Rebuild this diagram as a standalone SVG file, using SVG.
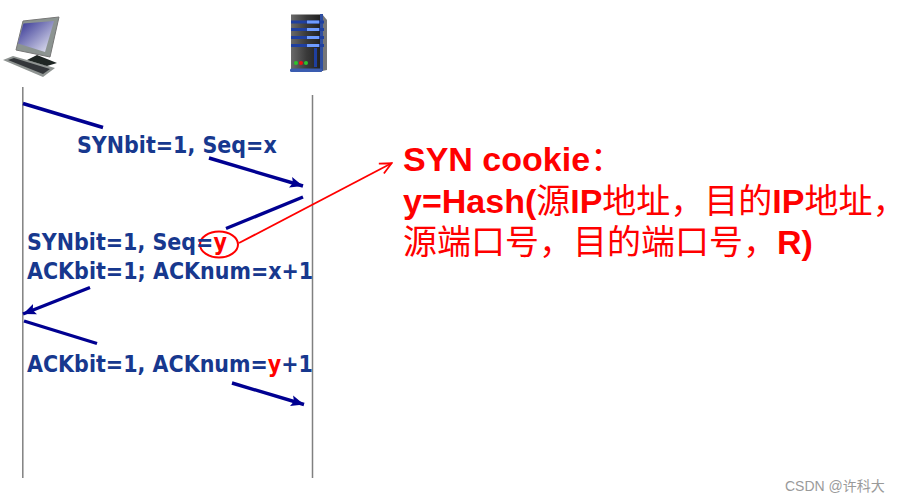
<svg xmlns="http://www.w3.org/2000/svg" width="900" height="502" viewBox="0 0 900 502">
<defs>
<linearGradient id="scr" x1="0" y1="0" x2="1" y2="1"><stop offset="0" stop-color="#2e2e90"/><stop offset="1" stop-color="#ecedf6"/></linearGradient>
<linearGradient id="tower" x1="0" y1="0" x2="1" y2="0"><stop offset="0" stop-color="#6a6a6a"/><stop offset="0.5" stop-color="#3a3a3a"/><stop offset="1" stop-color="#1e1e1e"/></linearGradient>
<marker id="blue" markerUnits="userSpaceOnUse" markerWidth="14" markerHeight="12" refX="13" refY="6" orient="auto"><path d="M0 0.500L13 6L0 11.500L2.500 6Z" fill="#000091"/></marker>
<marker id="red" markerUnits="userSpaceOnUse" markerWidth="14" markerHeight="14" refX="13" refY="7" orient="auto"><path d="M1 1.500L12.500 7L1 12.500" fill="none" stroke="#f00" stroke-width="1.800"/></marker>
</defs>
<style>
.life{stroke:#808080;stroke-width:1.5;fill:none}
.msg{stroke:#000091;stroke-width:3.4;fill:none}
.lab{font-family:"DejaVu Sans",sans-serif;font-weight:700;font-size:23px;fill:#17388e}
.redt{fill:#f00}
.note{font-family:"Liberation Sans","Noto Sans CJK SC",sans-serif;font-size:34px;fill:#f00;font-weight:700}
.cjk{font-weight:400}
.halt{font-feature-settings:"halt"}
.wm{font-family:"Liberation Sans","Noto Sans CJK SC",sans-serif;font-size:14px;fill:#9a9a9a}
</style>
<rect width="900" height="502" fill="#fff"/>
<g id="client">
<path d="M3 60L13 56L55 68L43 77Z" fill="#8f9492"/>
<path d="M8 60L14 58L50 69L43 74Z" fill="#33363a"/>
<path d="M27 60L37 55L57 63L47 66Z" fill="#1f2624"/>
<path d="M23 21L59 17L50 57L16 50Z" fill="#8c9491" stroke="#777" stroke-width="1"/>
<path d="M23.500 23.500L54 21L45 52L18 43.500Z" fill="url(#scr)"/>
</g>
<g id="server">
<rect x="291" y="14.500" width="31" height="57" fill="url(#tower)"/>
<path d="M322 14L327 20V70L322 71Z" fill="#777"/>
<rect x="320" y="14" width="3" height="57" fill="#2f4ea0"/>
<g fill="#1f3f9f"><rect x="291" y="20.500" width="33" height="3"/><rect x="291" y="28" width="33" height="3"/><rect x="291" y="36" width="33" height="3"/><rect x="291" y="44" width="33" height="3"/></g>
<g fill="#6f9cff"><rect x="307" y="20.500" width="12" height="3"/><rect x="307" y="28" width="12" height="3"/><rect x="307" y="36" width="12" height="3"/><rect x="307" y="44" width="12" height="3"/></g>
<rect x="314" y="48" width="3" height="19" fill="#1f3f9f"/>
<circle cx="296" cy="63" r="2" fill="#2bc42b"/><circle cx="301" cy="63" r="2" fill="#f01010"/><circle cx="306" cy="63" r="2" fill="#2bc42b"/>
<rect x="290" y="68.500" width="32" height="3.500" rx="1.500" fill="#3a5cb0"/>
</g>
<g id="connectors">
<line class="life" x1="22.800" y1="87" x2="22.800" y2="478"/>
<line class="life" x1="312.500" y1="95" x2="312.500" y2="478"/>
<line class="msg" x1="23" y1="103.500" x2="103" y2="127.500"/>
<line class="msg" x1="209" y1="158" x2="303" y2="186" marker-end="url(#blue)"/>
<line class="msg" x1="303" y1="197" x2="226" y2="228.500"/>
<line class="msg" x1="90" y1="287.500" x2="23" y2="314" marker-end="url(#blue)"/>
<line class="msg" x1="24" y1="321" x2="97" y2="343.500"/>
<line class="msg" x1="232" y1="383" x2="304" y2="404.500" marker-end="url(#blue)"/>
<line x1="239" y1="243" x2="392" y2="163" stroke="#f00" stroke-width="1.800" marker-end="url(#red)"/>
<ellipse cx="219" cy="244.500" rx="19" ry="13" fill="none" stroke="#f00" stroke-width="2"/>
</g>
<g id="labels">
<text class="lab" transform="translate(77 153) scale(.898 1)">SYNbit=1, Seq=x</text>
<text class="lab" transform="translate(27 250) scale(.898 1)">SYNbit=1, Seq=<tspan class="redt">y</tspan></text>
<text class="lab" transform="translate(27 278.500) scale(.898 1)">ACKbit=1; ACKnum=x+1</text>
<text class="lab" transform="translate(27 372) scale(.898 1)">ACKbit=1, ACKnum=<tspan class="redt">y</tspan>+1</text>
</g>
<g id="note">
<text class="note" x="403" y="171">SYN cookie<tspan class="cjk">：</tspan></text>
<text class="note" x="403" y="213">y=Hash(<tspan class="cjk">源</tspan>IP<tspan class="cjk">地址，目的</tspan>IP<tspan class="cjk">地址</tspan><tspan class="cjk halt">，</tspan></text>
<text class="note" x="403" y="254"><tspan class="cjk">源端口号，目的端口号，</tspan>R)</text>
</g>
<text class="wm" x="785" y="491">CSDN @许科大</text>
</svg>
